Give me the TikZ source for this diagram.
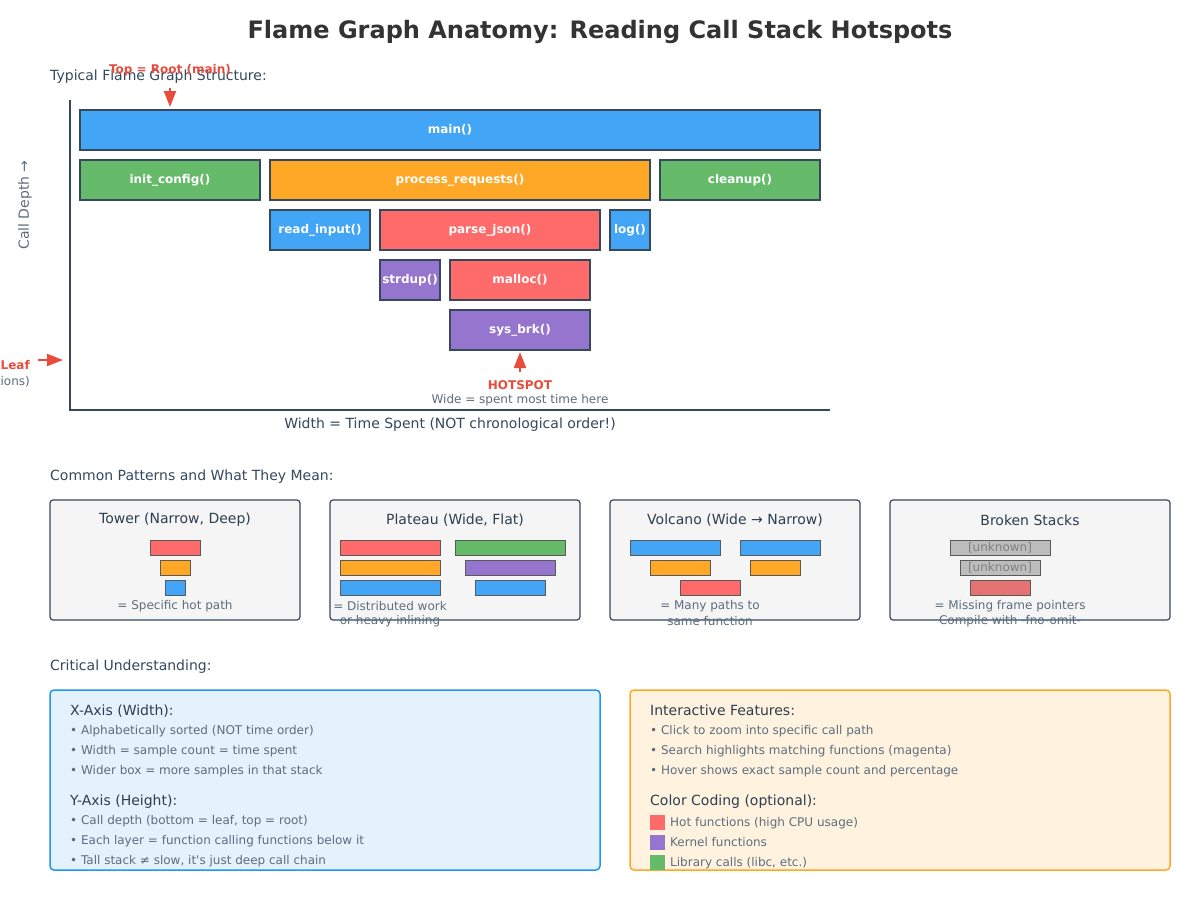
\documentclass[tikz,border=0pt]{standalone}
\usepackage{fontspec}
\setmainfont{DejaVu Sans}
\usetikzlibrary{arrows.meta}

\definecolor{fgblue}{HTML}{42A5F5}
\definecolor{fggreen}{HTML}{66BB6A}
\definecolor{fgorange}{HTML}{FFA726}
\definecolor{fgred}{HTML}{FF6B6B}
\definecolor{fgpurple}{HTML}{9575CD}
\definecolor{fggray}{HTML}{BDBDBD}
\definecolor{fgdull}{HTML}{E57373}
\definecolor{edge}{HTML}{34495E}
\definecolor{ink}{HTML}{2C3E50}
\definecolor{muted}{HTML}{5D6D7E}
\definecolor{hot}{HTML}{E74C3C}
\definecolor{panelbg}{HTML}{F5F5F5}
\definecolor{bluebg}{HTML}{E3F2FD}
\definecolor{blueedge}{HTML}{2196F3}
\definecolor{orangebg}{HTML}{FFF3E0}
\definecolor{orangeedge}{HTML}{FFA726}

\tikzset{
  fn/.style={draw=edge, line width=1.2pt, text=white, inner sep=0pt,
    minimum height=40pt, font=\fontsize{12}{14}\selectfont\bfseries},
  bar/.style={draw=black!65, line width=0.8pt},
  panel/.style={draw=edge, line width=1.2pt, fill=panelbg, rounded corners=3pt},
  heading/.style={font=\fontsize{14}{16}\selectfont, text=ink, inner sep=0pt},
  note/.style={font=\fontsize{12}{14}\selectfont, text=muted, inner sep=0pt},
  redlbl/.style={font=\fontsize{12}{14}\selectfont\bfseries, text=hot, inner sep=0pt},
  hotarrow/.style={draw=hot, line width=2pt, -{Triangle[width=12pt,length=16pt]}},
  axis/.style={draw=edge, line width=1.5pt}
}

\begin{document}
\begin{tikzpicture}[x=1pt,y=-1pt]
\useasboundingbox (0,0) rectangle (1200,900);
\fill[white] (0,0) rectangle (1200,900);
\clip (0,0) rectangle (1200,900);

% title
\node[font=\fontsize{24}{28}\selectfont\bfseries, text=black!80, inner sep=0pt] (title) at (600,32)
  {Flame Graph Anatomy: Reading Call Stack Hotspots};
\node[heading, text=edge, anchor=base west] (typical) at (50,80) {Typical Flame Graph Structure:};

% the axes
\coordinate (ytop) at (70,100);
\coordinate (origin) at (70,410);
\coordinate (xend) at (830,410);
\draw[axis] (ytop) -- (origin) -- (xend);
\node[heading, text=muted, rotate=90] (depth) at (25,205) {Call Depth →};
\node[heading, text=edge] (widthlbl) at (450,425)
  {Width = Time Spent (NOT chronological order!)};

% the stack frames
\node[fn, fill=fgblue, minimum width=740pt] (main) at (450,130) {main()};
\node[fn, fill=fggreen, minimum width=180pt] (init) at (170,180) {init\_config()};
\node[fn, fill=fgorange, minimum width=380pt] (process) at (460,180) {process\_requests()};
\node[fn, fill=fggreen, minimum width=160pt] (cleanup) at (740,180) {cleanup()};
\node[fn, fill=fgblue, minimum width=100pt] (readin) at (320,230) {read\_input()};
\node[fn, fill=fgred, minimum width=220pt] (parse) at (490,230) {parse\_json()};
\node[fn, fill=fgblue, minimum width=40pt] (log) at (630,230) {log()};
\node[fn, fill=fgpurple, minimum width=60pt] (strdup) at (410,280) {strdup()};
\node[fn, fill=fgred, minimum width=140pt] (malloc) at (520,280) {malloc()};
\node[fn, fill=fgpurple, minimum width=140pt] (sysbrk) at (520,330) {sys\_brk()};

% red markers
\node[redlbl] (rootlbl) at (170,70) {Top = Root (main)};
\coordinate (roottip) at (170,107);
\draw[hotarrow, shorten <=12pt] (rootlbl.south) -- (roottip);

\node[redlbl, anchor=base east] (leaflbl) at (30,369) {Bottom = Leaf};
\node[note, anchor=base east] (leafnote) at (30,385) {(functions)};
\coordinate (leaftail) at (38,360);
\coordinate (leafhead) at (63,360);
\draw[hotarrow] (leaftail) -- (leafhead);

\node[redlbl] (hotspot) at (520,385) {HOTSPOT};
\node[note] (hotnote) at (520,400) {Wide = spent most time here};
\coordinate (hottip) at (520,352);
\draw[hotarrow, shorten <=8pt] (hotspot.north) -- (hottip);

% common patterns
\node[heading, text=edge, anchor=base west] (patterns) at (50,480) {Common Patterns and What They Mean:};

\node[panel, minimum width=250pt, minimum height=120pt] (tower) at (175,560) {};
\node[panel, minimum width=250pt, minimum height=120pt] (plateau) at (455,560) {};
\node[panel, minimum width=250pt, minimum height=120pt] (volcano) at (735,560) {};
\node[panel, minimum width=280pt, minimum height=120pt] (broken) at (1030,560) {};

\node[heading] (towertitle) at (175,520) {Tower (Narrow, Deep)};
\node[heading] (plateautitle) at (455,520) {Plateau (Wide, Flat)};
\node[heading] (volcanotitle) at (735,520) {Volcano (Wide → Narrow)};
\node[heading] (brokentitle) at (1030,520) {Broken Stacks};

% little bars: left/right/top/colour
\foreach \l/\r/\t/\c in {150/200/540/fgred, 160/190/560/fgorange, 165/185/580/fgblue,
    340/440/540/fgred, 340/440/560/fgorange, 340/440/580/fgblue,
    455/565/540/fggreen, 465/555/560/fgpurple, 475/545/580/fgblue,
    630/720/540/fgblue, 740/820/540/fgblue, 650/710/560/fgorange, 750/800/560/fgorange,
    680/740/580/fgred, 970/1030/580/fgdull}
  \draw[bar, fill=\c] (\l,\t) rectangle (\r,\t+15);
\draw[bar, fill=fggray] (950,540) rectangle (1050,555) node[midway, note, text=black!50] (unk1) {[unknown]};
\draw[bar, fill=fggray] (960,560) rectangle (1040,575) node[midway, note, text=black!50] (unk2) {[unknown]};

\node[note] (towercap) at (175,606) {= Specific hot path};
\node[note] (plateaucap) at (390,606) {= Distributed work};
\node[note] (plateaucap2) at (390,621) {or heavy inlining};
\node[note] (volcanocap) at (710,606) {= Many paths to};
\node[note] (volcanocap2) at (710,621) {same function};
\node[note] (brokencap) at (1010,606) {= Missing frame pointers};
\node[note] (brokencap2) at (1010,621) {Compile with -fno-omit-};

% critical understanding
\node[heading, text=edge, anchor=base west] (critical) at (50,670) {Critical Understanding:};

\node[draw=blueedge, line width=1.5pt, fill=bluebg, rounded corners=4pt,
  minimum width=550pt, minimum height=180pt] (axesbox) at (325,780) {};
\node[draw=orangeedge, line width=1.5pt, fill=orangebg, rounded corners=4pt,
  minimum width=540pt, minimum height=180pt] (featbox) at (900,780) {};

\node[heading, anchor=base west] (xaxis) at (70,715) {X-Axis (Width):};
\foreach \txt [count=\i] in {Alphabetically sorted (NOT time order),
    Width = sample count = time spent, Wider box = more samples in that stack}
  \node[note, anchor=base west] (xb\i) at (70,714+20*\i) {• \txt};
\node[heading, anchor=base west] (yaxis) at (70,805) {Y-Axis (Height):};
\foreach \txt [count=\i] in {{Call depth (bottom = leaf, top = root)},
    Each layer = function calling functions below it,
    {Tall stack ≠ slow, it\textquotesingle s just deep call chain}}
  \node[note, anchor=base west] (yb\i) at (70,804+20*\i) {• \txt};

\node[heading, anchor=base west] (inter) at (650,715) {Interactive Features:};
\foreach \txt [count=\i] in {Click to zoom into specific call path,
    Search highlights matching functions (magenta),
    Hover shows exact sample count and percentage}
  \node[note, anchor=base west] (ib\i) at (650,714+20*\i) {• \txt};
\node[heading, anchor=base west] (coding) at (650,805) {Color Coding (optional):};
\foreach \c/\txt [count=\i] in {fgred/Hot functions (high CPU usage),
    fgpurple/Kernel functions, fggreen/{Library calls (libc, etc.)}} {
  \fill[\c] (650,795+20*\i) rectangle (665,810+20*\i);
  \node[note, anchor=base west] (cb\i) at (670,806+20*\i) {\txt};
}
\end{tikzpicture}
\end{document}
